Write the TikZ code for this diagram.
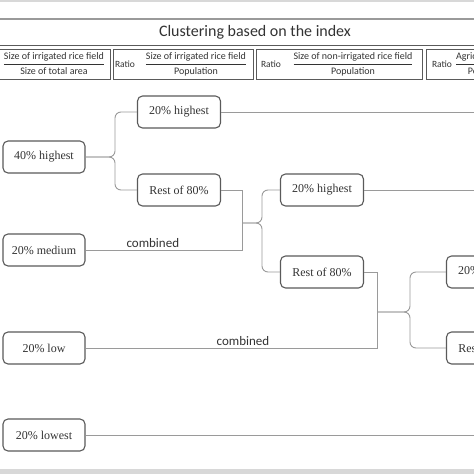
\documentclass[tikz,border=0pt]{standalone}
\usepackage{fontspec}
\setmainfont{Liberation Serif}
\newfontfamily\calfont{Carlito}
\definecolor{boxc}{HTML}{5A5A5A}
\definecolor{linec}{HTML}{9A9A9A}
\definecolor{txt}{HTML}{333333}
\definecolor{band}{HTML}{D8D8D8}
\begin{document}
\begin{tikzpicture}[x=1pt,y=-1pt,
  box/.style={draw=boxc, line width=1.1pt, rounded corners=5pt, minimum width=83pt, minimum height=32pt, inner sep=0pt, font=\fontsize{12}{14}\selectfont, text=txt},
  conn/.style={draw=linec, line width=0.9pt},
  brk/.style={conn, rounded corners=6pt},
  hdr/.style={draw=boxc, line width=1pt},
  lab/.style={font=\calfont\fontsize{13}{15}\selectfont, text=txt, inner sep=1.5pt},
  frac/.style={font=\calfont\fontsize{10}{12}\selectfont\renewcommand{\arraystretch}{1.25}, text=txt, inner sep=0pt},
  ratio/.style={font=\calfont\fontsize{9.5}{11}\selectfont, text=txt, inner sep=0pt}]
\useasboundingbox (0,0) rectangle (474,474);
\begin{scope}
\clip (0,0) rectangle (474,474);
\fill[white] (0,0) rectangle (474,474);
\fill[band] (0,0) rectangle (474,2);
\fill[band] (0,469) rectangle (474,474);
\draw[draw=linec, line width=1.8pt] (0,19) -- (474,19);
\node[font=\calfont\fontsize{16}{18}\selectfont, text=txt] (title) at (255,32) {Clustering based on the index};
\draw[hdr] (0,45) -- (474,45);
% header boxes
\draw[hdr] (-5,49) rectangle (110,79);
\draw[hdr] (113,49) rectangle (253,79);
\draw[hdr] (256,49) rectangle (422,79);
\draw[hdr] (426,49) rectangle (520,79);
\node[frac] (f1) at (54,64) {\begin{tabular}{@{}c@{}}Size of irrigated rice field\\\hline Size of total area\end{tabular}};
\node[ratio] (r2t) at (125,64) {Ratio};
\node[frac] (f2) at (196,64) {\begin{tabular}{@{}c@{}}Size of irrigated rice field\\\hline Population\end{tabular}};
\node[ratio] (r3t) at (271,64) {Ratio};
\node[frac] (f3) at (353,64) {\begin{tabular}{@{}c@{}}Size of non-irrigated rice field\\\hline Population\end{tabular}};
\node[ratio] (r4t) at (442,64) {Ratio};
\node[frac, anchor=west] (f4) at (456,64) {\begin{tabular}{@{}c@{}}Agricultural area\\\hline Population\end{tabular}};
% nodes
\node[box, minimum width=82pt] (h40) at (44,157) {40\% highest};
\node[box, minimum width=82pt] (med) at (44,250) {20\% medium};
\node[box, minimum width=82pt] (low) at (44,348) {20\% low};
\node[box, minimum width=82pt] (lowest) at (44,435) {20\% lowest};
\node[box] (h20a) at (179,112) {20\% highest};
\node[box] (r80a) at (179,190) {Rest of 80\%};
\node[box] (h20b) at (322,190) {20\% highest};
\node[box] (r80b) at (322,272) {Rest of 80\%};
\node[box] (h20c) at (488,272) {20\% highest};
\node[box] (r80c) at (488,348) {Rest of 80\%};
% helper coordinates
\coordinate (j1) at (115,157);
\coordinate (c1) at (242,223);
\coordinate (j2) at (262,223);
\coordinate (c2) at (377,312);
\coordinate (j3) at (410,312);
\coordinate (e1) at (474,112);
\coordinate (e2) at (474,190);
\coordinate (e3) at (474,435);
% connectors
\draw[brk] (h40.east) -- (h40.east -| j1) |- (h20a.west);
\draw[brk] (h40.east) -- (h40.east -| j1) |- (r80a.west);
\draw[conn] (h20a.east) -- (e1);
\draw[conn] (r80a.east) -| (c1);
\draw[conn] (med.east) -- node[lab, above, pos=0.43] {combined} (med.east -| c1) -- (c1);
\draw[brk] (c1) -- (j2) |- (h20b.west);
\draw[brk] (c1) -- (j2) |- (r80b.west);
\draw[conn] (h20b.east) -- (e2);
\draw[conn] (r80b.east) -| (c2);
\draw[conn] (low.east) -- node[lab, above, pos=0.54] {combined} (low.east -| c2) -- (c2);
\draw[brk] (c2) -- (j3) |- (h20c.west);
\draw[brk] (c2) -- (j3) |- (r80c.west);
\draw[conn] (lowest.east) -- (e3);
\end{scope}
\end{tikzpicture}
\end{document}
